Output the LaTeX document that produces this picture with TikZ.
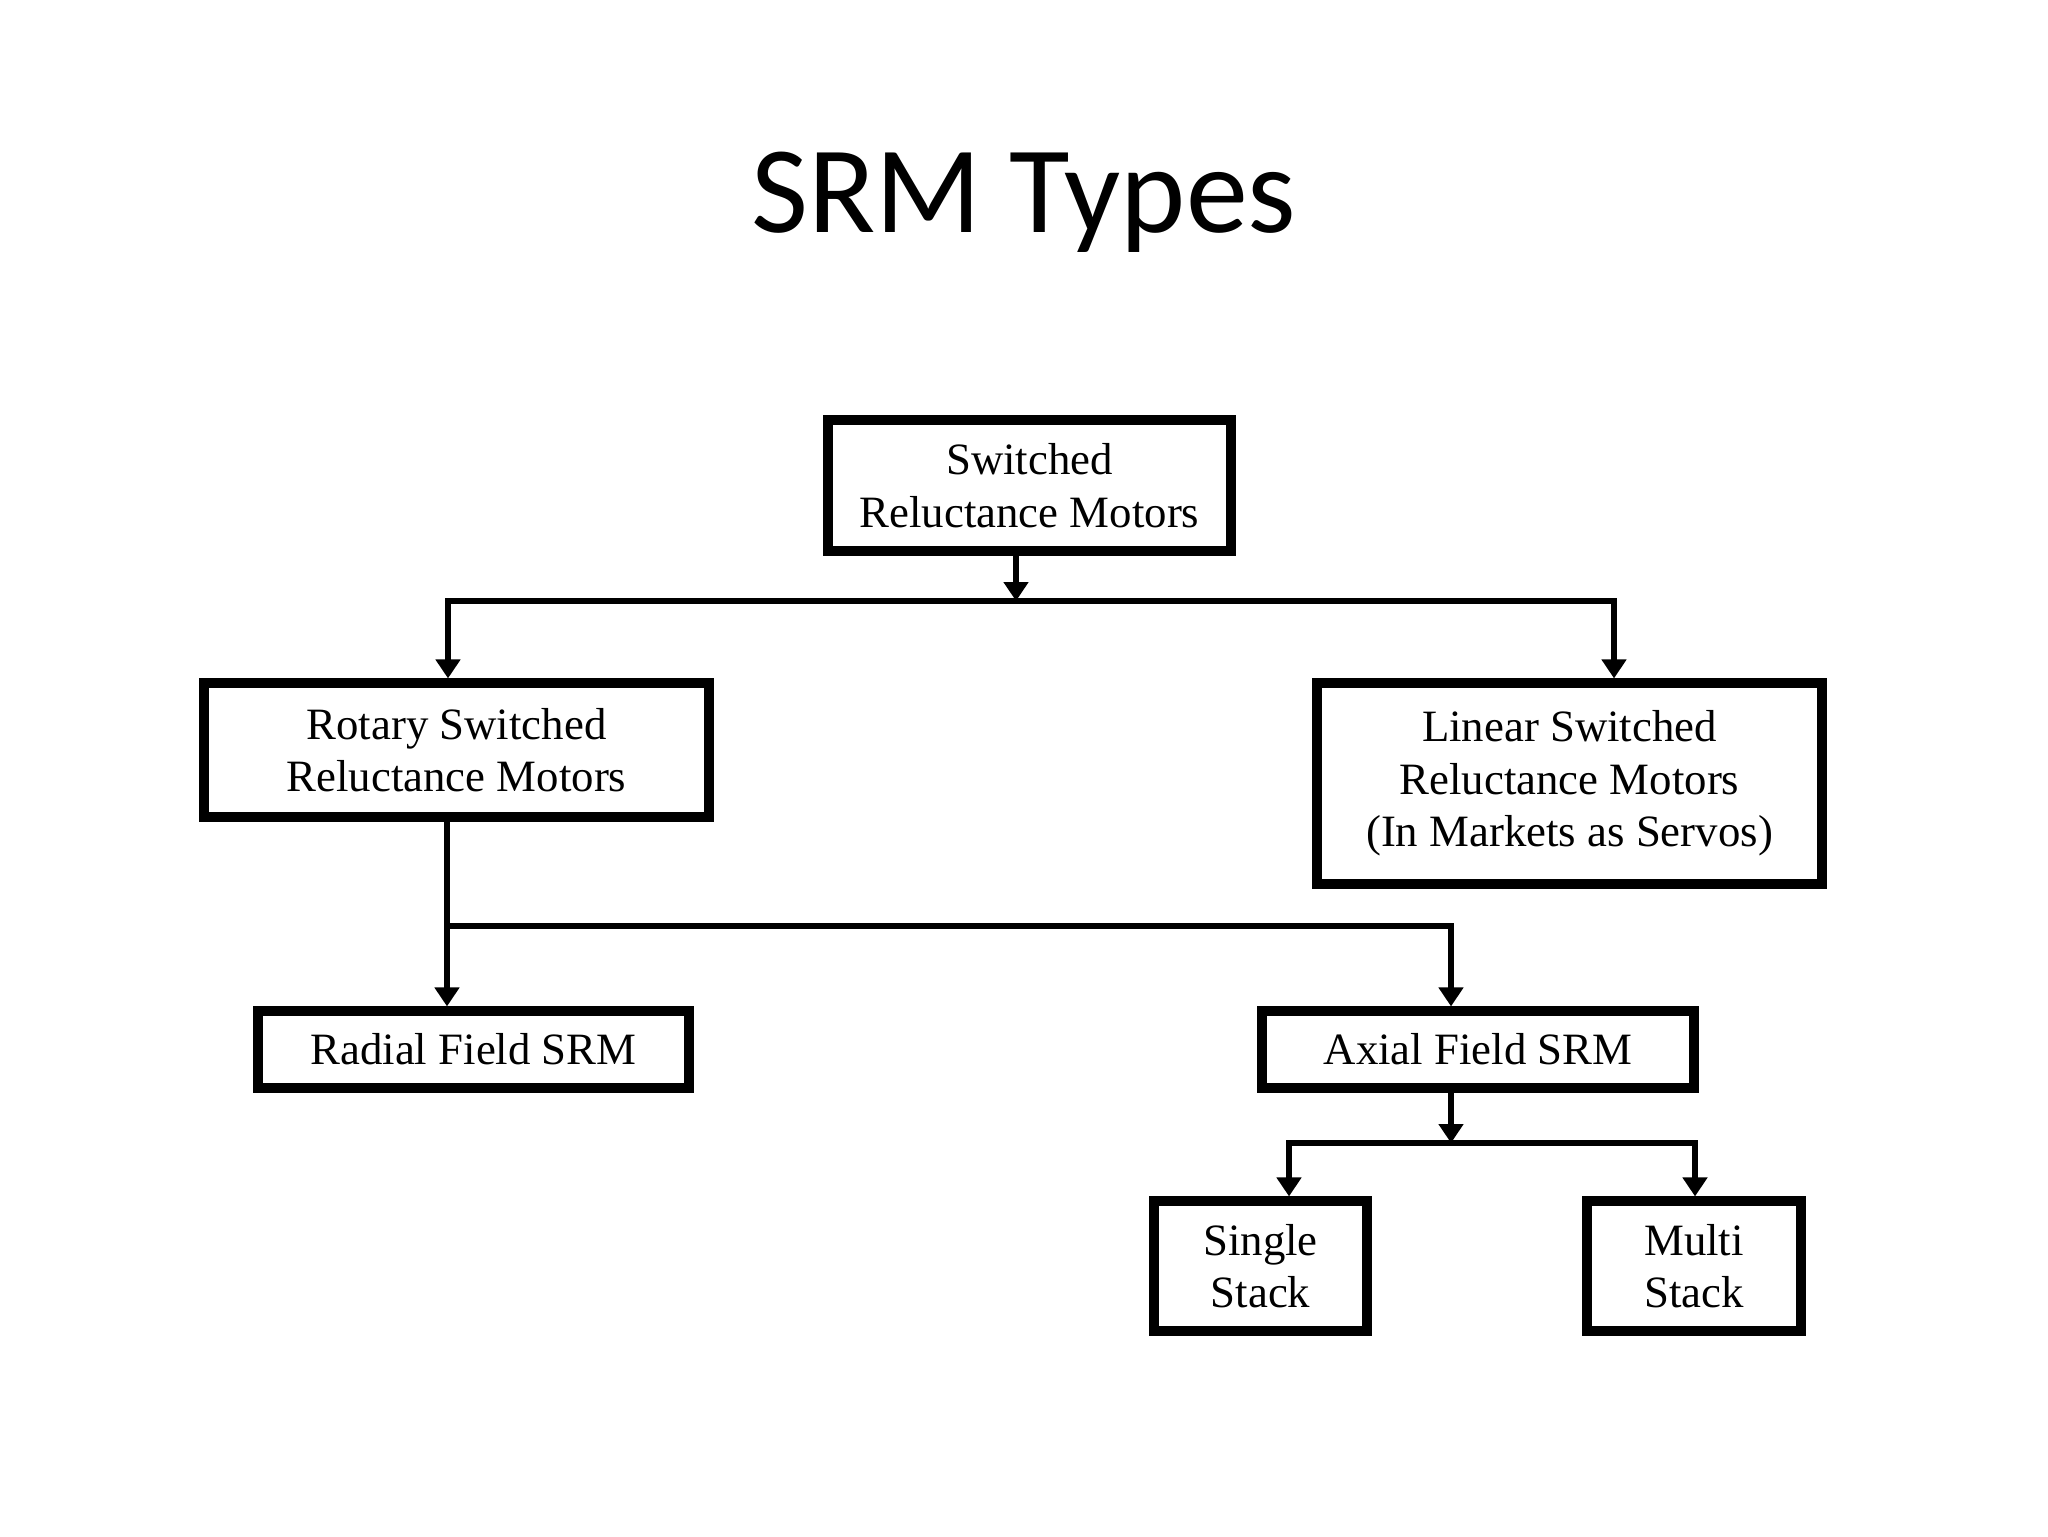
\documentclass[tikz,border=0pt]{standalone}
\usepackage{fontspec}
\setmainfont{Liberation Serif}
\newfontfamily\titlefont{Carlito}
\usetikzlibrary{arrows.meta}
\begin{document}
\begin{tikzpicture}[x=0.5pt,y=-0.5pt,
  box/.style={draw=black, line width=4.6pt, fill=white, inner sep=0pt, align=center,
    font=\fontsize{22.4}{26.2}\selectfont},
  conn/.style={line width=2.6pt},
  arr/.style={conn, -{Triangle[width=12pt,length=9.5pt]}}]
\useasboundingbox (0,0) rectangle (2048,1536);
\node[anchor=base, font=\titlefont\fontsize{62}{70}\selectfont] (title) at (1024,232) {SRM Types};
% boxes
\node[box, minimum width=201.5pt, minimum height=65.5pt] (top) at (1029.5,485.5) {Switched\\Reluctance Motors};
\node[box, minimum width=252.5pt, minimum height=67pt] (rot) at (456.5,750) {Rotary Switched\\Reluctance Motors};
\node[box, minimum width=252.5pt, minimum height=100.5pt] (lin) at (1569.5,783.5) {Linear Switched\\Reluctance Motors\\(In Markets as Servos)};
\node[box, minimum width=215.5pt, minimum height=38.5pt] (rad) at (473.5,1049.5) {Radial Field SRM};
\node[box, minimum width=216pt, minimum height=38.5pt] (axl) at (1478,1049.5) {Axial Field SRM};
\node[box, minimum width=106.5pt, minimum height=65pt] (sgl) at (1260.5,1266) {Single\\Stack};
\node[box, minimum width=107pt, minimum height=65pt] (mul) at (1694,1266) {Multi\\Stack};
% junction coordinates
\coordinate (b1) at (1016,601);
\coordinate (bL) at (448,601);
\coordinate (bR) at (1614,601);
\coordinate (c2) at (447,926);
\coordinate (c3) at (1451,926);
\coordinate (d1) at (1451,1143);
\coordinate (dL) at (1289,1143);
\coordinate (dR) at (1695,1143);
% connectors
\draw[arr] (top.south -| b1) -- (b1);
\draw[arr] (b1) -| (bL |- rot.north);
\draw[arr] (b1) -| (bR |- lin.north);
\draw[arr] (rot.south -| c2) -- (c2 |- rad.north);
\draw[arr] (c2) -| (c3 |- axl.north);
\draw[arr] (axl.south -| d1) -- (d1);
\draw[arr] (d1) -| (dL |- sgl.north);
\draw[arr] (d1) -| (dR |- mul.north);
\end{tikzpicture}
\end{document}
